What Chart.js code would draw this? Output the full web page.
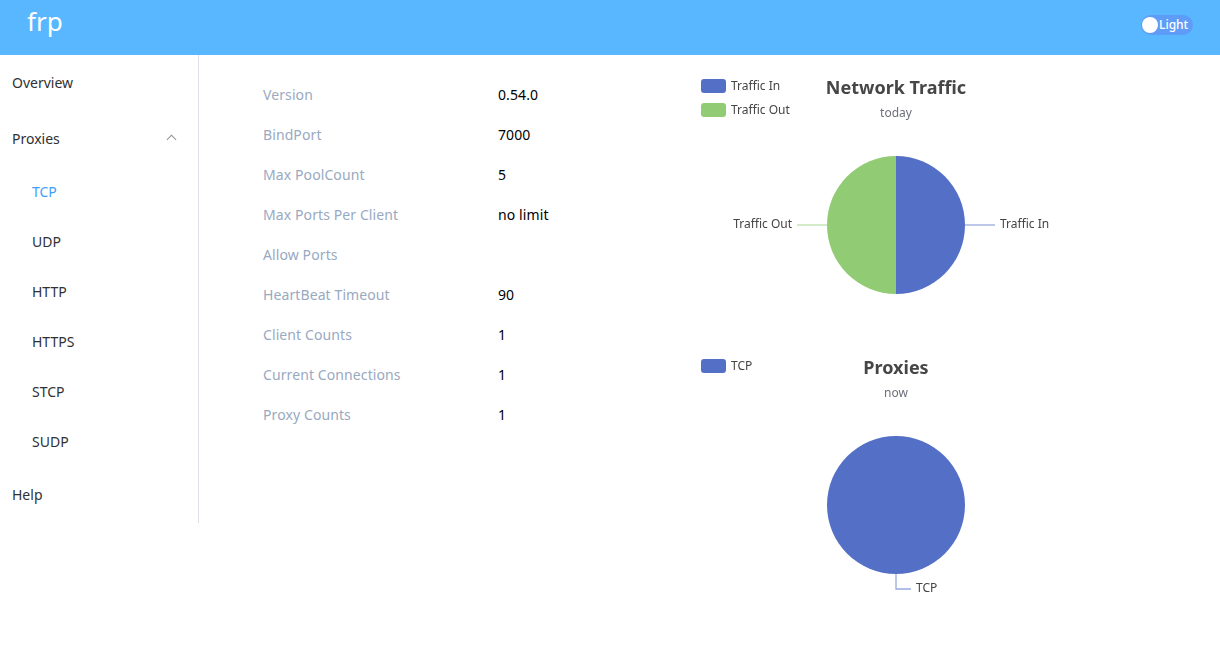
<!DOCTYPE html>
<html>
<head>
<meta charset="utf-8">
<title>frp</title>
<script src="https://cdn.jsdelivr.net/npm/chart.js@4/dist/chart.umd.min.js"></script>
<style>
*{margin:0;padding:0;box-sizing:border-box}
html,body{width:1220px;height:650px;background:#fff;overflow:hidden;font-family:"Noto Sans",sans-serif;font-size:14px}
.header{position:absolute;left:0;top:0;width:1220px;height:55px;background:#58b7ff}
.logo{position:absolute;left:27px;top:2px;font-size:26px;line-height:38px;color:#fff}
.switch{position:absolute;left:1141px;top:15px;width:52px;height:20px;border-radius:10px;background:#5f9cf7}
.knob{position:absolute;left:1px;top:2px;width:16px;height:16px;border-radius:50%;background:#fff}
.switch span{position:absolute;left:18px;top:0;line-height:20px;font-size:12px;font-weight:500;color:#fff}
.side{position:absolute;left:0;top:55px;width:199px;height:468px;border-right:1px solid #dcdfe6}
.item{position:absolute;color:#303133;line-height:20px;transform:translateY(-10px)}
.active{color:#409eff}
.arrow{position:absolute;left:168px;top:81px;width:7px;height:7px;border-left:1px solid #909399;border-top:1px solid #909399;transform:rotate(45deg)}
.row{position:absolute;line-height:20px;letter-spacing:.1px}
.key{left:263px;color:#99a9bf}
.val{left:498px;color:#000}
canvas{position:absolute;left:696px}
#trafficChart{top:70px}
#proxyChart{top:350px}
</style>
</head>
<body>
<div class="header">
  <div class="logo">frp</div>
  <div class="switch"><div class="knob"></div><span>Light</span></div>
</div>
<div class="side" id="side"><div class="arrow"></div></div>
<div id="info"></div>
<canvas id="trafficChart" width="400" height="280"></canvas>
<canvas id="proxyChart" width="400" height="280"></canvas>
<script>
// sidebar and table
const menuTop=["Overview","Proxies"];
const menuProxies=["TCP","UDP","HTTP","HTTPS","STCP","SUDP"];
const menuBottom=["Help"];
const infoKeys=["Version","BindPort","Max PoolCount","Max Ports Per Client","Allow Ports","HeartBeat Timeout","Client Counts","Current Connections","Proxy Counts"];
const infoValues=["0.54.0","7000","5","no limit","","90","1","1","1"];

// charts
const trafficLabels=["Traffic In","Traffic Out"];
const trafficValues=[50,50];
const proxyLabels=["TCP"];
const proxyValues=[1];
const pieColors=["#5470c6","#91cc75"];
const lineColors=["rgba(84,112,198,.6)","rgba(145,204,117,.6)"];

function addItem(parent,text,left,y,cls){
  const d=document.createElement("div");
  d.className=cls;
  d.textContent=text;
  d.style.left=left+"px";
  d.style.top=y+"px";
  parent.appendChild(d);
}
const side=document.getElementById("side");
addItem(side,menuTop[0],12,28,"item");
addItem(side,menuTop[1],12,84,"item");
menuProxies.forEach((m,i)=>addItem(side,m,32,137+i*50,i===0?"item active":"item"));
addItem(side,menuBottom[0],12,440,"item");

const info=document.getElementById("info");
infoKeys.forEach((k,i)=>{
  addItem(info,k,263,85+i*40,"row key");
  addItem(info,infoValues[i],498,85+i*40,"row val");
});

// title, legend and leader lines, echarts style
const decorate={
  id:"decorate",
  afterDraw(chart,args,opts){
    const c=chart.ctx;
    const font='"Noto Sans",sans-serif';
    c.save();
    c.textBaseline="middle";
    c.textAlign="center";
    c.fillStyle="#464646";
    c.font="bold 18px "+font;
    c.fillText(opts.title,200,19);
    c.fillStyle="#6e7079";
    c.font="12px "+font;
    c.fillText(opts.sub,200,44);
    c.textAlign="left";
    chart.data.labels.forEach((label,i)=>{
      c.fillStyle=pieColors[i];
      c.beginPath();
      c.roundRect(5,9+i*24,25,14,3);
      c.fill();
      c.fillStyle="#444";
      c.fillText(label,35,17+i*24);
    });
    chart.getDatasetMeta(0).data.forEach((arc,i)=>{
      const p=arc.getProps(["x","y","startAngle","endAngle","outerRadius"],true);
      const mid=(p.startAngle+p.endAngle)/2;
      const dir=Math.cos(mid)>-0.001?1:-1;
      const x1=p.x+Math.cos(mid)*p.outerRadius,y1=p.y+Math.sin(mid)*p.outerRadius;
      const x2=p.x+Math.cos(mid)*(p.outerRadius+15),y2=p.y+Math.sin(mid)*(p.outerRadius+15);
      const x3=x2+dir*15;
      c.strokeStyle=lineColors[i];
      c.lineWidth=1.3;
      c.beginPath();
      c.moveTo(x1,y1);c.lineTo(x2,y2);c.lineTo(x3,y2);
      c.stroke();
      c.fillStyle="#444";
      c.textAlign=dir>0?"left":"right";
      c.fillText(chart.data.labels[i],x3+dir*5,y2);
    });
    c.restore();
  }
};

function makePie(id,labels,values,title,sub){
  new Chart(document.getElementById(id),{
    type:"pie",
    data:{labels:labels,datasets:[{data:values,backgroundColor:pieColors,borderWidth:0}]},
    options:{
      responsive:false,
      animation:false,
      layout:{padding:{left:131,right:131,top:86,bottom:56}},
      plugins:{
        legend:{display:false},
        tooltip:{enabled:false},
        decorate:{title:title,sub:sub}
      }
    },
    plugins:[decorate]
  });
}
makePie("trafficChart",trafficLabels,trafficValues,"Network Traffic","today");
makePie("proxyChart",proxyLabels,proxyValues,"Proxies","now");
</script>
</body>
</html>
